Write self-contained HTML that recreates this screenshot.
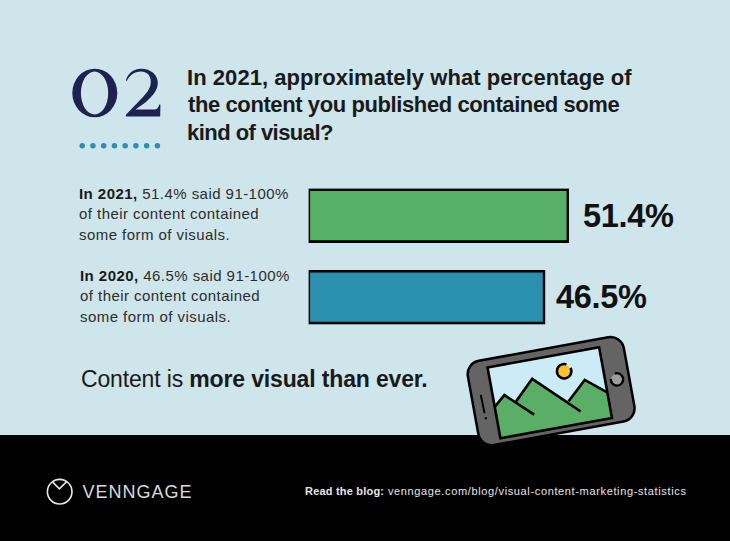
<!DOCTYPE html>
<html><head><meta charset="utf-8">
<style>
html,body{margin:0;padding:0;}
body{width:730px;height:541px;position:relative;overflow:hidden;background:#cde5eb;font-family:"Liberation Sans",sans-serif;}
.abs{position:absolute;white-space:nowrap;}
.tl{left:187px;font-size:22px;font-weight:bold;color:#1a1a1a;line-height:27.4px;}
.bt{font-size:15px;color:#2d2d2d;line-height:20.5px;letter-spacing:0.45px;}
.bt b{color:#1a1a1a;}
.pct{font-size:32.5px;letter-spacing:-0.3px;font-weight:bold;color:#111;line-height:30px;}
#foot{position:absolute;left:0;top:435px;width:730px;height:106px;background:#000;}
</style></head>
<body>
<svg class="abs" style="left:0;top:0" width="200" height="160">
  <path fill="#1c2350" fill-rule="evenodd" d="M72.3,93 a22.5,24.25 0 1,0 45,0 a22.5,24.25 0 1,0 -45,0 Z M80.9,93 a13.65,21.45 0 1,0 27.3,0 a13.65,21.45 0 1,0 -27.3,0 Z"/>
  <path fill="#1c2350" d="M125.9,80.6 C127.5,74 133,68.8 141,68.8 C151,68.8 157.8,75 157.8,83 C157.8,90 153,95.5 146,102 L135.5,109.6 L154.5,109.6 C157,109.6 158.5,107.5 159.3,104.5 L160.4,104.5 L160.2,116.5 L125.9,116.5 L125.9,114.8 L143,97 C148.5,91 150.8,87 150.8,81.5 C150.8,75 146.5,71.5 141,71.5 C134,71.5 129.5,75.5 126.8,81 Z"/>
  <g fill="#2a8fb0">
    <circle cx="82.2" cy="145.8" r="2.75"/><circle cx="92.94" cy="145.8" r="2.75"/><circle cx="103.69" cy="145.8" r="2.75"/><circle cx="114.43" cy="145.8" r="2.75"/>
    <circle cx="125.17" cy="145.8" r="2.75"/><circle cx="135.91" cy="145.8" r="2.75"/><circle cx="146.66" cy="145.8" r="2.75"/><circle cx="157.4" cy="145.8" r="2.75"/>
  </g>
</svg>

<div class="abs tl" style="top:63.7px;letter-spacing:0.05px">In 2021, approximately what percentage of</div>
<div class="abs tl" style="top:91px;left:188px;letter-spacing:-0.4px">the content you published contained some</div>
<div class="abs tl" style="top:118.6px;letter-spacing:-0.54px">kind of visual?</div>

<div class="abs bt" style="left:79px;top:183.6px"><b>In 2021,</b> 51.4% said 91-100%<br>of their content contained<br>some form of visuals.</div>
<div class="abs bt" style="left:80px;top:265.6px"><b>In 2020,</b> 46.5% said 91-100%<br>of their content contained<br>some form of visuals.</div>

<svg class="abs" style="left:0;top:0" width="730" height="541">
  <rect x="308.6" y="188.6" width="260.4" height="54.4" fill="#000"/>
  <rect x="310.1" y="191" width="256.5" height="49.2" fill="#56b068"/>
  <rect x="308.6" y="270" width="236.6" height="54.3" fill="#000"/>
  <rect x="310.1" y="272.5" width="232.7" height="49.3" fill="#2b8fae"/>
</svg>

<div class="abs pct" style="left:583px;top:201px">51.4%</div>
<div class="abs pct" style="left:556px;top:282px">46.5%</div>

<div class="abs" style="left:81px;top:366px;font-size:23px;letter-spacing:-0.15px;color:#1a1a1a;">Content is <b>more visual than ever.</b></div>



<div id="foot">
  <svg class="abs" style="left:0;top:0" width="200" height="106">
    <circle cx="59.7" cy="56.7" r="12.3" fill="none" stroke="#e6e6e6" stroke-width="1.6"/>
    <polyline points="52.2,46.6 59.4,53.8 66.6,46.6" fill="none" stroke="#e6e6e6" stroke-width="1.6"/>
  </svg>
  <div class="abs" style="left:82.5px;top:45px;font-size:18px;color:#dadada;line-height:24px;letter-spacing:1px;">VENNGAGE</div>
  <div class="abs" style="left:305px;top:49px;font-size:11px;color:#e6e6e6;line-height:14px;letter-spacing:0.64px;"><b style="letter-spacing:0.2px">Read the blog:</b> venngage.com/blog/visual-content-marketing-statistics</div>
</div>
<svg class="abs" style="left:0;top:0" width="730" height="541">
  <g transform="rotate(-10.3)">
    <rect x="393.05" y="440.6" width="158.5" height="85.6" rx="13.5" fill="#646464" stroke="#000" stroke-width="2.5"/>
    <rect x="414" y="448.7" width="113.4" height="72" fill="#cbebf6"/>
    <polygon points="413.5,489.2 425.6,478.9 435.8,487.4 455.9,467.9 487.7,496.5 507.4,478.3 527.6,495 527.6,521 413.5,521" fill="#5aae65"/>
    <g fill="none" stroke="#000" stroke-width="2.6" stroke-linecap="butt" stroke-linejoin="miter">
      <polyline points="413.5,489.2 425.6,478.9 451.4,503.4"/>
      <polyline points="435.8,487.4 455.9,467.9 497.7,508.7"/>
      <polyline points="487.7,496.5 507.4,478.3 527.6,495"/>
    </g>
    <rect x="414" y="448.7" width="113.4" height="72" fill="none" stroke="#000" stroke-width="2.6"/>
    <circle cx="488.7" cy="466.1" r="6.4" fill="#f9c12c"/>
    <path d="M495.55,463.88 A7.2,7.2 0 1 1 492.19,459.80" fill="none" stroke="#000" stroke-width="2.5"/>
    <circle cx="539.2" cy="483.6" r="5.8" fill="#9c9c9c"/>
    <path d="M538.12,477.49 A6.2,6.2 0 1 1 533.21,482.00" fill="none" stroke="#000" stroke-width="2.4"/>
    <line x1="402.4" y1="474.5" x2="402.9" y2="493.2" stroke="#000" stroke-width="2"/>
    <circle cx="403.2" cy="498.4" r="1.2" fill="#000"/>
  </g>
</svg>
</body></html>
